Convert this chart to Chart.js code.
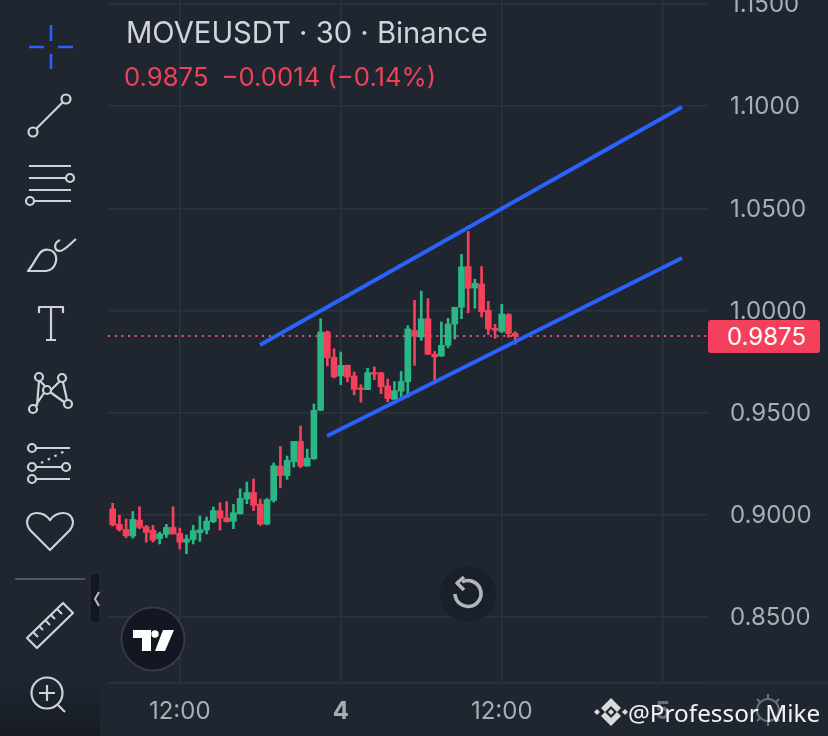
<!DOCTYPE html>
<html>
<head>
<meta charset="utf-8">
<title>MOVEUSDT</title>
<script src="https://cdn.jsdelivr.net/npm/chart.js@4"></script>
<style>
  html, body { margin: 0; padding: 0; background: #1f2630; }
  #wrap { position: relative; width: 828px; height: 736px; overflow: hidden; background: #1f2630; font-family: Inter, Roboto, sans-serif; }
  #wrap canvas { position: absolute; left: 0; top: 0; }
  .txt { position: absolute; white-space: nowrap; }
  #title { left: 126px; top: 15px; font-size: 29.2px; color: #d1d4dc; }
  #legend { left: 124px; top: 61px; font-size: 25.7px; color: #f0405a; }
  #legend span { margin-right: 13px; }
  #tag { left: 708px; top: 320px; width: 112px; height: 33px; background: #f5405c; border-radius: 3px; color: #fff; font-size: 24px; line-height: 34px; text-align: right; }
  #tag span { margin-right: 14px; }
  #mark { left: 628px; top: 696px; font-size: 24.3px; color: #f2f3f5; font-family: "Noto Sans", sans-serif; }
  svg.ov { position: absolute; left: 0; top: 0; }
</style>
</head>
<body>
<div id="wrap">
  <canvas id="chart" width="828" height="736"></canvas>
  <svg class="ov" width="828" height="736" fill="none" stroke="#cfd2da" stroke-width="2.2" stroke-linejoin="round">
    <defs>
      <linearGradient id="fade" x1="0" y1="0" x2="0" y2="1">
        <stop offset="0" stop-color="#141820" stop-opacity="0"/>
        <stop offset="1" stop-color="#141820" stop-opacity="0.75"/>
      </linearGradient>
    </defs>
    <rect x="0" y="680" width="100" height="56" fill="url(#fade)" stroke="none"/>
    <path d="M708 683H828" stroke="#2c333e" stroke-width="1.5"/>
    <!-- crosshair -->
    <g stroke="#2962ff" stroke-width="2.6">
      <path d="M51 25V41M51 54V69M29 47H44M58 47H73"/>
    </g>
    <!-- trend line -->
    <circle cx="66" cy="99" r="4.5"/><circle cx="33" cy="132" r="4.5"/><path d="M36.5 128.5L62.5 102.5"/>
    <!-- fib -->
    <path d="M29 166H71M29 178H65M29 190H71M35 201H71"/>
    <circle cx="70" cy="178" r="4"/><circle cx="30" cy="201" r="4"/>
    <!-- brush -->
    <path d="M28 271H46C55 270 58 260 55 254C52 249 44 248 40 253C36 258 33 265 28 271Z"/>
    <path d="M60 240C53 243 54 251 60 251C64 251 70 244 76 239"/>
    <!-- text -->
    <path d="M39 313V307H63V313M51 307V340M46 340H56"/>
    <!-- pattern -->
    <circle cx="39" cy="377" r="4"/><circle cx="62" cy="378" r="4"/><circle cx="47" cy="390" r="4"/><circle cx="68" cy="404" r="4"/><circle cx="33" cy="409" r="4"/>
    <path d="M40 381L45 386M36 405L44 393M37 406L39 381M51 390L60 381M50 392L64 402M63 382L67 400"/>
    <!-- long short -->
    <circle cx="32" cy="448" r="4"/><circle cx="32" cy="467" r="4"/><circle cx="66" cy="467" r="4"/><circle cx="32" cy="479" r="4"/>
    <path d="M36 448H70M36 467H62M36 479H70"/>
    <path d="M41 463L65 451" stroke-dasharray="2.5 5"/>
    <!-- heart -->
    <path d="M50 550L30 530C24 522 28 513 37 513C43 513 47 516 50 520C53 516 57 513 63 513C72 513 76 522 70 530Z"/>
    <!-- divider -->
    <path d="M15 579H85" stroke="#50555f"/>
    <!-- ruler -->
    <path d="M63 603L73 613L37 648L27 638Z"/>
    <path d="M33 632L38 637M39 626L43 630M45 620L50 625M51 615L55 619M57 609L62 614" stroke-width="2"/>
    <!-- zoom -->
    <circle cx="47" cy="693" r="15.5"/><path d="M47 685V701M39 693H55M58 705L65 712"/>
    <!-- collapse tab -->
    <path d="M100 573H96C92 573 90 575 90 579V617C90 621 92 623 96 623H100Z" fill="#131722" stroke="#2a2e39" stroke-width="1"/>
    <path d="M99 592L95 599L99 606" stroke="#b2b5be"/>
    <!-- logo -->
    <circle cx="153" cy="639" r="31.5" fill="#131722" stroke="#363a45" stroke-width="2"/>
    <path d="M133 630H151V651H142V638H133ZM163 630H174L165 651H155Z" fill="#fff" stroke="none"/>
    <circle cx="155" cy="634" r="3.7" fill="#fff" stroke="none"/>
    <!-- reset button -->
    <circle cx="468" cy="594" r="28" fill="#1a202a" stroke="none"/>
    <path d="M462 582A13 13 0 1 1 455 594" stroke="#b2b5be" stroke-width="3.6"/>
    <path d="M464 577L457 583L464 590" stroke="#b2b5be" stroke-width="3.6"/>
    <!-- watermark gear and logo -->
    <g stroke="#6a6f79" stroke-width="2">
      <circle cx="768" cy="710" r="11"/>
      <path d="M768 694V699M768 721V726M752 710H757M779 710H784M757 699L760 702M776 718L779 721M779 699L776 702M760 718L757 721"/>
    </g>
    <g fill="#d9dadc" stroke="none">
      <path d="M611 698L621 708L617 712L611 706L605 712L601 708Z"/>
      <path d="M611 726L601 716L605 712L611 718L617 712L621 716Z"/>
      <path d="M597 709L600 712L597 715L594 712Z"/>
      <path d="M625 709L628 712L625 715L622 712Z"/>
      <path d="M611 709L614 712L611 715L608 712Z"/>
    </g>
  </svg>
  <div class="txt" id="title">MOVEUSDT · 30 · Binance</div>
  <div class="txt" id="legend"><span>0.9875</span>−0.0014 (−0.14%)</div>
  <div class="txt" id="tag"><span>0.9875</span></div>
  <div class="txt" id="mark">@Professor Mike</div>
</div>
<script>
const candleIndex = [...Array(61).keys()];
const opens = [0.9030,0.8955,0.8929,0.8897,0.8975,0.8942,0.8925,0.8884,0.8905,0.8939,0.8910,0.8867,0.8880,0.8913,0.8926,0.8967,0.9021,0.8986,0.8969,0.9006,0.9078,0.9110,0.9053,0.8955,0.9071,0.9239,0.9193,0.9260,0.9360,0.9239,0.9275,
  0.9512,0.9895,0.9771,0.9680,0.9732,0.9680,0.9619,0.9613,0.9696,0.9696,0.9631,0.9565,0.9606,0.9652,0.9903,0.9870,0.9960,0.9786,0.9777,0.9830,0.9934,1.0016,1.0215,1.0110,1.0130,1.0001,0.9913,0.9898,0.9980,0.9888];
const highs = [0.9057,0.8999,0.8980,0.9017,0.9040,0.8949,0.8949,0.8916,0.8954,0.9040,0.8936,0.8902,0.8949,0.8995,0.8990,0.9039,0.9060,0.9065,0.9052,0.9128,0.9161,0.9176,0.9078,0.9081,0.9254,0.9335,0.9288,0.9360,0.9435,0.9322,0.9543,
  0.9960,0.9900,0.9813,0.9797,0.9733,0.9699,0.9637,0.9717,0.9724,0.9698,0.9665,0.9652,0.9702,0.9926,1.0050,1.0095,1.0058,0.9800,0.9944,0.9962,1.0016,1.0275,1.0387,1.0153,1.0215,1.0045,0.9932,1.0030,0.9985,0.9897];
const lows = [0.8946,0.8921,0.8889,0.8887,0.8933,0.8867,0.8867,0.8858,0.8890,0.8907,0.8833,0.8810,0.8858,0.8871,0.8907,0.8962,0.8926,0.8965,0.8933,0.9004,0.9055,0.9021,0.8949,0.8952,0.9063,0.9133,0.9174,0.9234,0.9231,0.9238,0.9272,
  0.9510,0.9729,0.9670,0.9637,0.9652,0.9587,0.9552,0.9613,0.9662,0.9593,0.9554,0.9565,0.9577,0.9575,0.9732,0.9854,0.9784,0.9652,0.9776,0.9818,0.9861,0.9960,0.9989,1.0011,0.9968,0.9883,0.9864,0.9892,0.9870,0.9836];
const closes = [0.8951,0.8929,0.8898,0.8978,0.8939,0.8915,0.8877,0.8907,0.8939,0.8907,0.8867,0.8882,0.8923,0.8928,0.8970,0.9021,0.8985,0.8967,0.9011,0.9081,0.9110,0.9047,0.8955,0.9074,0.9241,0.9193,0.9267,0.9360,0.9239,0.9278,0.9512,
  0.9895,0.9769,0.9676,0.9732,0.9675,0.9614,0.9614,0.9696,0.9689,0.9627,0.9570,0.9608,0.9653,0.9910,0.9874,0.9960,0.9786,0.9773,0.9830,0.9934,1.0016,1.0213,1.0109,1.0133,0.9994,0.9910,0.9903,0.9983,0.9888,0.9875];

const upperChannelX = [21.96, 84.87];
const upperChannelY = [0.9831, 1.0996];
const lowerChannelX = [31.95, 84.87];
const lowerChannelY = [0.9386, 1.0257];
const lastPrice = 0.9875;

const priceTicks = [0.85, 0.90, 0.95, 1.00, 1.05, 1.10, 1.15];
const timeTicks = [10, 34, 58, 82];
const timeLabels = ['12:00', '4', '12:00', '5'];

const UP = '#2bb686';
const DOWN = '#f5405c';
const candleColors = closes.map((c, i) => c >= opens[i] ? UP : DOWN);

new Chart(document.getElementById('chart').getContext('2d'), {
    data: {
        datasets: [
            {
                type: 'line',
                data: [{ x: -0.7, y: lastPrice }, { x: 88.75, y: lastPrice }],
                borderColor: '#e0556b',
                borderWidth: 2,
                borderDash: [2, 4.7],
                pointRadius: 0,
                order: 4
            },
            {
                type: 'bar',
                data: candleIndex.map(i => ({ x: i, y: [lows[i], highs[i]] })),
                backgroundColor: candleColors,
                barThickness: 2,
                grouped: false,
                order: 3
            },
            {
                type: 'bar',
                data: candleIndex.map(i => ({ x: i, y: [opens[i], closes[i]] })),
                backgroundColor: candleColors,
                barThickness: 6,
                minBarLength: 1.5,
                grouped: false,
                order: 2
            },
            {
                type: 'line',
                data: upperChannelX.map((x, i) => ({ x, y: upperChannelY[i] })),
                borderColor: '#2962ff',
                borderWidth: 4,
                pointRadius: 0,
                order: 1
            },
            {
                type: 'line',
                data: lowerChannelX.map((x, i) => ({ x, y: lowerChannelY[i] })),
                borderColor: '#2962ff',
                borderWidth: 4,
                pointRadius: 0,
                order: 1
            }
        ]
    },
    options: {
        responsive: false,
        animation: false,
        layout: { padding: { left: 108, top: 0, right: 0, bottom: 0 } },
        plugins: { legend: { display: false }, tooltip: { enabled: false } },
        scales: {
            x: {
                type: 'linear',
                min: -0.7,
                max: 88.75,
                offset: false,
                afterFit: s => { s.height = 53; s.paddingLeft = 0; s.paddingRight = 0; },
                afterBuildTicks: s => { s.ticks = timeTicks.map(value => ({ value })); },
                grid: { color: '#2c333e', lineWidth: 1.5, drawTicks: false, offset: false },
                border: { color: '#2c333e', width: 1.5 },
                ticks: {
                    autoSkip: false,
                    maxRotation: 0,
                    padding: 14,
                    font: ctx => ({ family: 'Inter, Roboto, sans-serif', size: 24, weight: ctx.tick && (ctx.tick.value === 34 || ctx.tick.value === 82) ? 'bold' : 'normal' }),
                    color: ctx => ctx.tick && ctx.tick.value === 82 ? '#6a6f79' : '#a9adb6',
                    callback: value => timeLabels[timeTicks.indexOf(value)]
                }
            },
            y: {
                position: 'right',
                min: 0.8178,
                max: 1.1519,
                afterFit: s => { s.width = 120; s.paddingTop = 0; s.paddingBottom = 0; },
                afterBuildTicks: s => { s.ticks = priceTicks.map(value => ({ value })); },
                grid: { color: '#2c333e', lineWidth: 1.5, drawTicks: false },
                border: { display: false },
                ticks: {
                    padding: 22,
                    labelOffset: 1,
                    font: { family: 'Inter, Roboto, sans-serif', size: 24 },
                    color: '#a9adb6',
                    callback: value => value.toFixed(4)
                }
            }
        }
    }
});
</script>
</body>
</html>
